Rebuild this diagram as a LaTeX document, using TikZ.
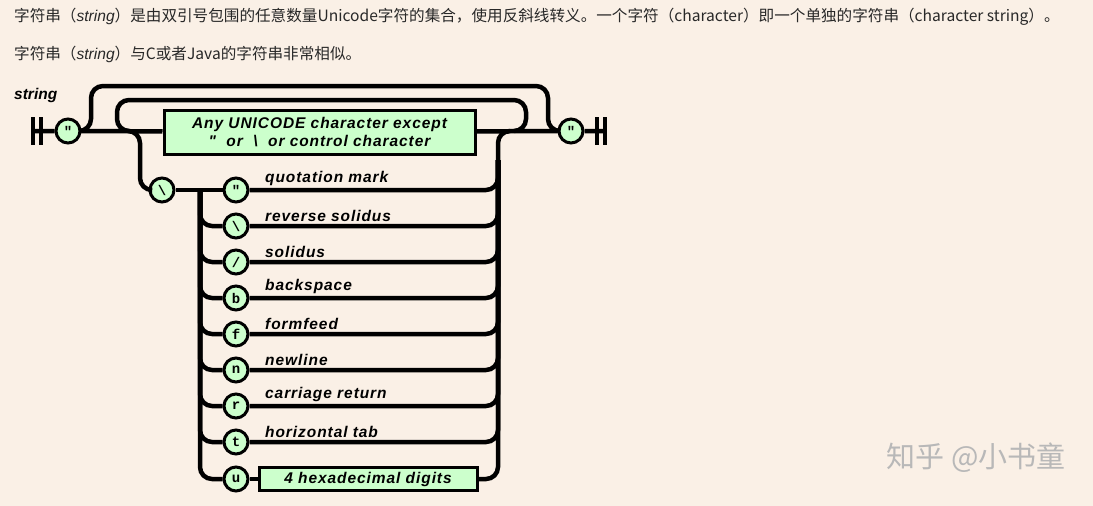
\documentclass[tikz,border=0pt]{standalone}
\usepackage{fontspec}
\setmainfont{Liberation Sans}
\newfontfamily\cjk{Noto Sans CJK SC}
\newfontfamily\lab[LetterSpace=6]{Liberation Sans}
\newfontfamily\labb{Liberation Sans}
\newfontfamily\mono{Liberation Mono}
\definecolor{bg}{RGB}{250,240,230}
\definecolor{gr}{RGB}{204,255,204}
\definecolor{tx}{RGB}{40,40,40}
\tikzset{
 rail/.style={line width=4.5pt, rounded corners=12pt},
 term/.style={circle, draw, line width=3pt, fill=gr, minimum size=24pt, inner sep=0pt, font=\mono\bfseries\fontsize{14}{14}\selectfont},
 nterm/.style={draw, line width=3pt, fill=gr, font=\lab\bfseries\itshape\fontsize{15.5}{18}\selectfont, align=center},
 lbl/.style={anchor=south west, font=\lab\bfseries\itshape\fontsize{15.5}{15}\selectfont, inner sep=0pt},
 cn/.style={anchor=west, inner sep=0pt, text=tx, font=\cjk\fontsize{15.6}{15}\selectfont},
}
\begin{document}
\begin{tikzpicture}[x=1pt,y=-1pt]
\fill[bg] (0,0) rectangle (1093,506);
\useasboundingbox (0,0) rectangle (1093,506);
\node[cn] (t1) at (14,17) {字符串（{\labb\itshape string}）是由双引号包围的任意数量Unicode字符的集合，使用反斜线转义。一个字符（character）即一个单独的字符串（character string）。};
\node[cn] (t2) at (14,54) {字符串（{\labb\itshape string}）与C或者Java的字符串非常相似。};
\node[anchor=east, inner sep=0pt, text=black!28, font=\cjk\fontsize{29}{29}\selectfont] (wm) at (1066,458) {知乎 @小书童};
\node[lbl, anchor=west, font=\labb\bfseries\itshape\fontsize{15.5}{15}\selectfont] (name) at (14,95) {string};
% bars
\draw[line width=4.5pt] (33,117) -- (33,145) (41,117) -- (41,145);
\draw[line width=4.5pt] (597,117) -- (597,145) (605,117) -- (605,145);
\coordinate (s) at (33,131);
\coordinate (e) at (605,131);
\node[term] (q1) at (68,131) {"};
\node[term] (q2) at (571,131) {"};
\node[nterm, minimum width=311pt, minimum height=44pt] (any) at (319.5,132) {Any UNICODE character except\\" \ or \ \textbackslash\ \ or control character};
% main line
\draw[rail] (s) -- (q1) (q1) -- (any) (any) -- (q2) (q2) -- (e);
% outer bypass
\draw[rail] (q1.east) -| (91,86) -| (548,131) -- (q2.west);
% inner loop
\draw[rail] (129,131) -| (117,100) -| (526,131) -- (514,131);
% escape branch
\node[term] (bs) at (162,190) {\textbackslash};
\draw[rail] (128,131) -| (140,190) -- (bs);
\foreach \n/\c/\y/\t in {o1/{"}/190/quotation mark, o2/{\textbackslash}/226/reverse solidus, o3/{/}/262/solidus, o4/b/298/backspace, o5/f/334/formfeed, o6/n/370/newline, o7/r/406/carriage return, o8/t/442/horizontal tab}{
  \node[term] (\n) at (236,\y) {\c};
  \node[lbl] (l\n) at (265,\y-4) {\t};
}
\node[term] (o9) at (236,479) {u};
\node[nterm, minimum width=218pt, minimum height=23pt, font=\lab\bfseries\itshape\fontsize{15.5}{15}\selectfont] (hex) at (368,479) {4 hexadecimal digits};
\draw[rail] (bs) -- (o1);
\foreach \n in {o2,o3,o4,o5,o6,o7,o8,o9}{\draw[rail] (200,190) |- (\n.west);}
\draw[rail] (o9) -- (hex);
\foreach \n in {o1,o2,o3,o4,o5,o6,o7,o8}{\draw[rail] (\n.east) -| (498,160);}
\draw[rail] (hex.east) -| (498,131) -- (510,131);
\end{tikzpicture}
\end{document}
